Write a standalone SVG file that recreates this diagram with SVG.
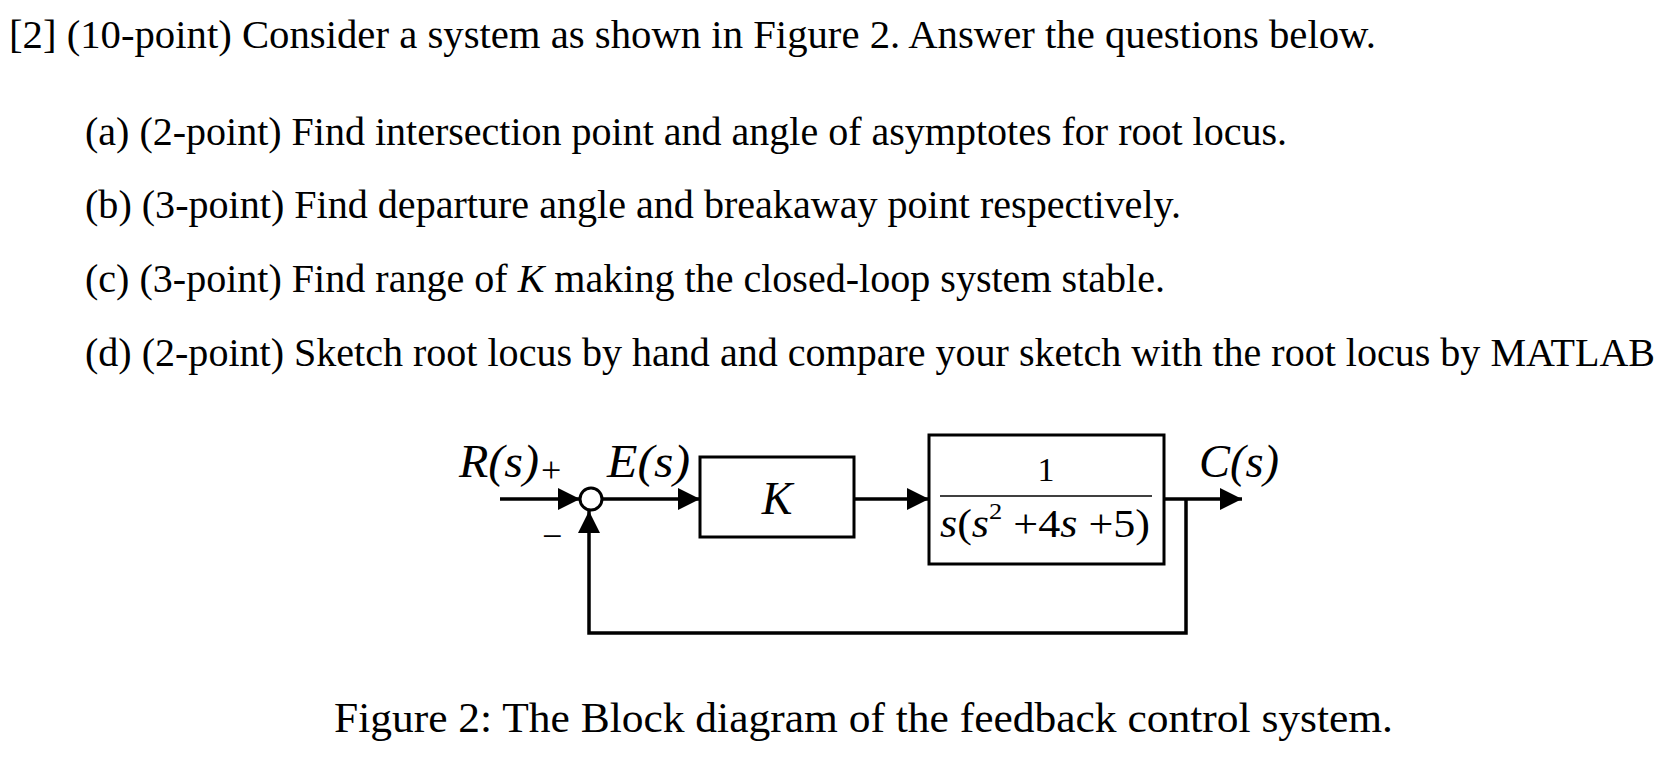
<svg xmlns="http://www.w3.org/2000/svg" width="1664" height="761" viewBox="0 0 1664 761">
<style>
text{font-family:"Liberation Serif","Times New Roman",serif;fill:#000}
.q{font-size:40px}
.m{font-size:46px;font-style:italic}
.b{fill:#fff;stroke:#000;stroke-width:3}
.l{fill:none;stroke:#000;stroke-width:3.5}
</style>
<defs>
<marker id="h" viewBox="0 0 10 10" refX="10" refY="5" markerWidth="26" markerHeight="22" markerUnits="userSpaceOnUse" orient="auto"><path d="M0,0L10,5L0,10z"/></marker></defs>
<rect width="1664" height="761" fill="#fff"/>
<text class="q" x="9" y="48" textLength="1367" lengthAdjust="spacingAndGlyphs">[2] (10-point) Consider a system as shown in Figure 2. Answer the questions below.</text>
<text class="q" x="85" y="145" textLength="1202" lengthAdjust="spacingAndGlyphs">(a) (2-point) Find intersection point and angle of asymptotes for root locus.</text>
<text class="q" x="85" y="218" textLength="1096" lengthAdjust="spacingAndGlyphs">(b) (3-point) Find departure angle and breakaway point respectively.</text>
<text class="q" x="85" y="292" textLength="1080" lengthAdjust="spacingAndGlyphs">(c) (3-point) Find range of <tspan font-style="italic">K</tspan> making the closed-loop system stable.</text>
<text class="q" x="85" y="366" textLength="1570" lengthAdjust="spacingAndGlyphs">(d) (2-point) Sketch root locus by hand and compare your sketch with the root locus by MATLAB</text>
<g id="connectors">
<line class="l" x1="500" y1="499" x2="580" y2="499" marker-end="url(#h)"/>
<line class="l" x1="602" y1="499" x2="700" y2="499" marker-end="url(#h)"/>
<line class="l" x1="854" y1="499" x2="929" y2="499" marker-end="url(#h)"/>
<line class="l" x1="1164" y1="499" x2="1242" y2="499" marker-end="url(#h)"/>
<polyline class="l" points="1186,499 1186,633 589,633 589,511" marker-end="url(#h)"/>
</g>
<g id="sum"><circle cx="591" cy="499" r="11" class="b"/></g>
<g id="K"><rect x="700" y="457" width="154" height="80" class="b"/><text class="m" x="777" y="514" text-anchor="middle">K</text></g>
<g id="G"><rect x="929" y="435" width="235" height="129" class="b"/>
<text x="1046" y="481" font-size="34" text-anchor="middle">1</text>
<line x1="940" y1="496" x2="1152" y2="496" stroke="#000" stroke-width="1.5"/>
<text x="940" y="537" font-size="40" textLength="210" lengthAdjust="spacingAndGlyphs"><tspan font-style="italic">s</tspan>(<tspan font-style="italic">s</tspan><tspan font-size="24" dy="-18">2</tspan><tspan dy="18"> +4</tspan><tspan font-style="italic">s</tspan> +5)</text></g>
<g id="labels">
<text class="m" x="459" y="477" textLength="80" lengthAdjust="spacingAndGlyphs">R(s)</text>
<text x="541" y="482" font-size="36">+</text>
<text class="m" x="607" y="477" textLength="83" lengthAdjust="spacingAndGlyphs">E(s)</text>
<text x="542" y="548" font-size="36">−</text>
<text class="m" x="1199" y="477" textLength="80" lengthAdjust="spacingAndGlyphs">C(s)</text>
</g>
<text x="334" y="732" font-size="43" textLength="1059" lengthAdjust="spacingAndGlyphs">Figure 2: The Block diagram of the feedback control system.</text>
</svg>
